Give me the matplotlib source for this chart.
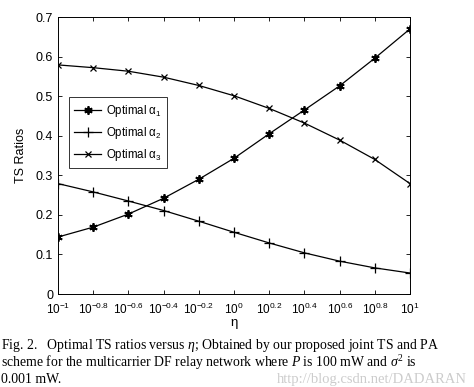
import numpy as np
import matplotlib
matplotlib.use("Agg")
import matplotlib.pyplot as plt

# ====== data ======
log_eta = [-1, -0.8, -0.6, -0.4, -0.2, 0, 0.2, 0.4, 0.6, 0.8, 1]
alpha1 = [0.144, 0.169, 0.202, 0.242, 0.290, 0.343, 0.405, 0.465, 0.526, 0.596, 0.670]
alpha2 = [0.279, 0.258, 0.235, 0.211, 0.184, 0.156, 0.129, 0.104, 0.083, 0.066, 0.053]
alpha3 = [0.579, 0.572, 0.563, 0.548, 0.527, 0.501, 0.469, 0.432, 0.389, 0.340, 0.279]
tick_exps = ["-1", "-0.8", "-0.6", "-0.4", "-0.2", "0", "0.2", "0.4", "0.6", "0.8", "1"]

eta = [10 ** v for v in log_eta]

plt.rcParams["font.family"] = ["Liberation Sans", "DejaVu Sans"]
plt.rcParams["mathtext.fontset"] = "custom"
plt.rcParams["mathtext.rm"] = "Liberation Serif"
plt.rcParams["mathtext.it"] = "Liberation Serif:italic"

fig = plt.figure(figsize=(4.74, 3.87), dpi=100)
ax = fig.add_axes([0.1224, 0.2403, 0.7426, 0.7157])

lw = 0.9
ax.plot(eta, alpha1, color="black", lw=lw, marker=(6, 2, 0), ms=6, mew=1.3, label=r"Optimal $\mathregular{\alpha_1}$")
ax.plot(eta, alpha2, color="black", lw=lw, marker="+", ms=7, mew=0.9, label=r"Optimal $\mathregular{\alpha_2}$")
ax.plot(eta, alpha3, color="black", lw=lw, marker="x", ms=4.5, mew=0.9, label=r"Optimal $\mathregular{\alpha_3}$")

ax.set_xscale("log")
ax.set_xlim(0.1, 10)
ax.set_ylim(0, 0.7)
ax.set_xticks(eta)
ax.set_xticklabels([r"$\mathregular{10^{%s}}$" % e for e in tick_exps], fontsize=8.5)
ax.minorticks_off()
ax.set_yticks(np.arange(0, 0.71, 0.1))
ax.set_yticklabels(["0", "0.1", "0.2", "0.3", "0.4", "0.5", "0.6", "0.7"], fontsize=9)
ax.tick_params(direction="in", top=True, right=True, length=3, width=0.6)
ax.tick_params(axis="x", pad=5.5)
ax.tick_params(axis="y", pad=3.5)
for s in ax.spines.values():
    s.set_linewidth(0.7)

ax.set_xlabel(r"$\mathregular{\eta}$", fontsize=9.5, labelpad=0)
ax.set_ylabel("TS Ratios", fontsize=9, labelpad=6)

leg = ax.legend(loc="upper left", bbox_to_anchor=(0.03, 0.71), fontsize=8.3,
                frameon=True, fancybox=False, edgecolor="black", handlelength=2.4,
                handletextpad=0.4, borderpad=0.45, labelspacing=0.55, numpoints=1,
                borderaxespad=0)
leg.get_frame().set_linewidth(0.7)

# caption
cap = dict(family="Liberation Serif", fontsize=9.9, ha="left", va="baseline")
fig.text(0.002, 1 - 349 / 387, r"Fig. 2.   Optimal TS ratios versus $\eta$; Obtained by our proposed joint TS and PA", **cap)
fig.text(0.002, 1 - 367 / 387, r"scheme for the multicarrier DF relay network where $P$ is 100 mW and $\sigma^2$ is", **cap)
fig.text(0.002, 1 - 383 / 387, "0.001 mW.", **cap)
fig.text(0.985, 1 - 383 / 387, "http://blog.csdn.net/DADARAN", family="Liberation Serif",
         fontsize=10.5, color="#cccccc", ha="right", va="baseline", zorder=-1)

plt.savefig("out.png", dpi=100)
